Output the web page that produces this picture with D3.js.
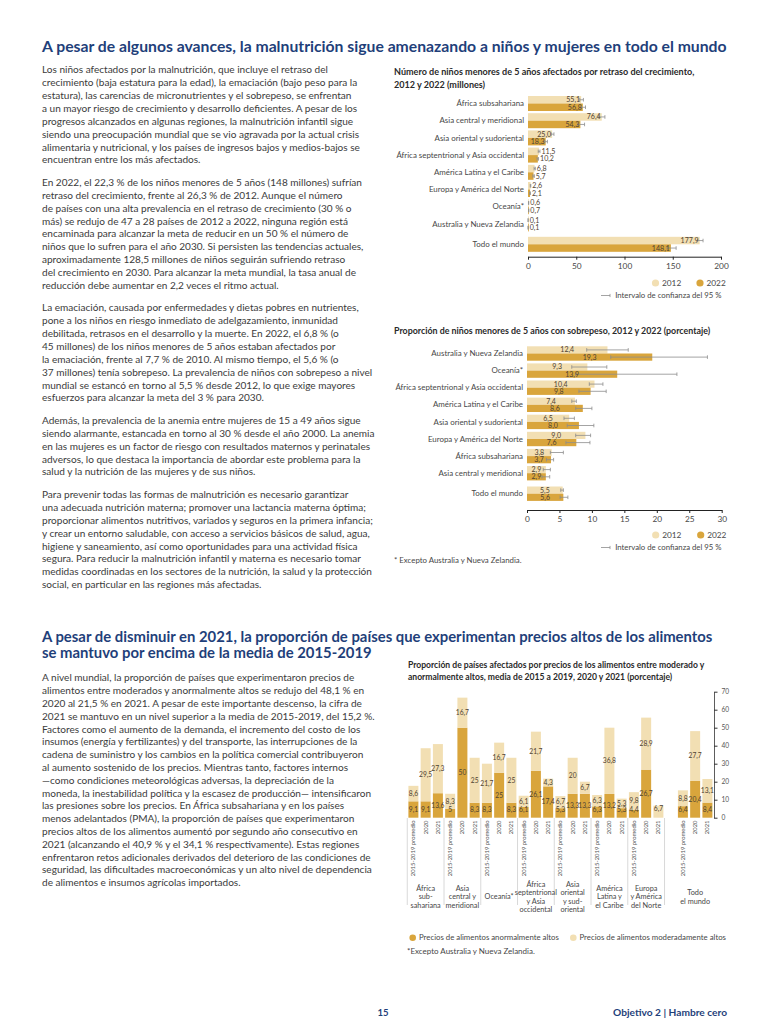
<!DOCTYPE html>
<html><head><meta charset="utf-8">
<script src="https://cdn.jsdelivr.net/npm/d3@7"></script>
<style>body{margin:0;background:#fff}svg{display:block}</style>
</head><body><svg id="c" width="768" height="1024"></svg>
<script>
// ---------------- DATA ----------------
const title1 = "A pesar de algunos avances, la malnutrición sigue amenazando a niños y mujeres en todo el mundo";
const title2 = ["A pesar de disminuir en 2021, la proporción de países que experimentan precios altos de los alimentos",
                "se mantuvo por encima de la media de 2015-2019"];
const paragraphs1 = [
 ["Los niños afectados por la malnutrición, que incluye el retraso del",
  "crecimiento (baja estatura para la edad), la emaciación (bajo peso para la",
  "estatura), las carencias de micronutrientes y el sobrepeso, se enfrentan",
  "a un mayor riesgo de crecimiento y desarrollo deficientes. A pesar de los",
  "progresos alcanzados en algunas regiones, la malnutrición infantil sigue",
  "siendo una preocupación mundial que se vio agravada por la actual crisis",
  "alimentaria y nutricional, y los países de ingresos bajos y medios-bajos se",
  "encuentran entre los más afectados."],
 ["En 2022, el 22,3 % de los niños menores de 5 años (148 millones) sufrían",
  "retraso del crecimiento, frente al 26,3 % de 2012. Aunque el número",
  "de países con una alta prevalencia en el retraso de crecimiento (30 % o",
  "más) se redujo de 47 a 28 países de 2012 a 2022, ninguna región está",
  "encaminada para alcanzar la meta de reducir en un 50 % el número de",
  "niños que lo sufren para el año 2030. Si persisten las tendencias actuales,",
  "aproximadamente 128,5 millones de niños seguirán sufriendo retraso",
  "del crecimiento en 2030. Para alcanzar la meta mundial, la tasa anual de",
  "reducción debe aumentar en 2,2 veces el ritmo actual."],
 ["La emaciación, causada por enfermedades y dietas pobres en nutrientes,",
  "pone a los niños en riesgo inmediato de adelgazamiento, inmunidad",
  "debilitada, retrasos en el desarrollo y la muerte. En 2022, el 6,8 % (o",
  "45 millones) de los niños menores de 5 años estaban afectados por",
  "la emaciación, frente al 7,7 % de 2010. Al mismo tiempo, el 5,6 % (o",
  "37 millones) tenía sobrepeso. La prevalencia de niños con sobrepeso a nivel",
  "mundial se estancó en torno al 5,5 % desde 2012, lo que exige mayores",
  "esfuerzos para alcanzar la meta del 3 % para 2030."],
 ["Además, la prevalencia de la anemia entre mujeres de 15 a 49 años sigue",
  "siendo alarmante, estancada en torno al 30 % desde el año 2000. La anemia",
  "en las mujeres es un factor de riesgo con resultados maternos y perinatales",
  "adversos, lo que destaca la importancia de abordar este problema para la",
  "salud y la nutrición de las mujeres y de sus niños."],
 ["Para prevenir todas las formas de malnutrición es necesario garantizar",
  "una adecuada nutrición materna; promover una lactancia materna óptima;",
  "proporcionar alimentos nutritivos, variados y seguros en la primera infancia;",
  "y crear un entorno saludable, con acceso a servicios básicos de salud, agua,",
  "higiene y saneamiento, así como oportunidades para una actividad física",
  "segura. Para reducir la malnutrición infantil y materna es necesario tomar",
  "medidas coordinadas en los sectores de la nutrición, la salud y la protección",
  "social, en particular en las regiones más afectadas."]
];
const paragraph2 = [
  "A nivel mundial, la proporción de países que experimentaron precios de",
  "alimentos entre moderados y anormalmente altos se redujo del 48,1 % en",
  "2020 al 21,5 % en 2021. A pesar de este importante descenso, la cifra de",
  "2021 se mantuvo en un nivel superior a la media de 2015-2019, del 15,2 %.",
  "Factores como el aumento de la demanda, el incremento del costo de los",
  "insumos (energía y fertilizantes) y del transporte, las interrupciones de la",
  "cadena de suministro y los cambios en la política comercial contribuyeron",
  "al aumento sostenido de los precios. Mientras tanto, factores internos",
  "—como condiciones meteorológicas adversas, la depreciación de la",
  "moneda, la inestabilidad política y la escasez de producción— intensificaron",
  "las presiones sobre los precios. En África subsahariana y en los países",
  "menos adelantados (PMA), la proporción de países que experimentaron",
  "precios altos de los alimentos aumentó por segundo año consecutivo en",
  "2021 (alcanzando el 40,9 % y el 34,1 % respectivamente). Estas regiones",
  "enfrentaron retos adicionales derivados del deterioro de las condiciones de",
  "seguridad, las dificultades macroeconómicas y un alto nivel de dependencia",
  "de alimentos e insumos agrícolas importados."
];

// Chart 1: stunting (millions)
const stuntTitle = ["Número de niños menores de 5 años afectados por retraso del crecimiento,", "2012 y 2022  (millones)"];
const stuntCats = ["África subsahariana","Asia central y meridional","Asia oriental y sudoriental","África septentrional y Asia occidental","América Latina y el Caribe","Europa y América del Norte","Oceanía*","Australia y Nueva Zelandia","Todo el mundo"];
const stunt2012 = [55.1, 76.4, 25.0, 11.5, 6.8, 2.6, 0.6, 0.1, 177.9];
const stunt2022 = [56.8, 54.3, 18.3, 10.2, 5.7, 2.1, 0.7, 0.1, 148.1];
const stunt2012Low  = [53.6, 73.4, 24.0, 10.6, 6.3, 2.3, 0.5, 0.08, 175.8];
const stunt2012High = [57.4, 79.7, 26.9, 12.4, 7.6, 2.9, 0.8, 0.15, 181.4];
const stunt2022Low  = [55.0, 51.5, 17.4, 9.4, 5.1, 1.8, 0.6, 0.08, 144.0];
const stunt2022High = [59.6, 58.6, 20.1, 10.9, 6.6, 2.5, 0.9, 0.15, 153.5];
const stuntTicks = [0, 50, 100, 150, 200];

// Chart 2: overweight (%)
const owTitle = "Proporción de niños menores de 5 años con sobrepeso, 2012 y 2022  (porcentaje)";
const owCats = ["Australia y Nueva Zelandia","Oceanía*","África septentrional y Asia occidental","América Latina y el Caribe","Asia oriental y sudoriental","Europa y América del Norte","África subsahariana","Asia central y meridional","Todo el mundo"];
const ow2012 = [12.4, 9.3, 10.4, 7.4, 6.5, 9.0, 3.8, 2.9, 5.5];
const ow2022 = [19.3, 13.9, 9.8, 8.6, 8.0, 7.6, 3.7, 2.9, 5.6];
const ow2012Low  = [9.2, 6.9, 9.6, 6.9, 5.7, 7.5, 3.6, 2.5, 5.2];
const ow2012High = [15.6, 12.3, 11.7, 7.6, 7.3, 9.8, 5.6, 3.6, 5.6];
const ow2022Low  = [12.9, 7.5, 8.0, 7.5, 6.2, 6.0, 3.0, 2.3, 5.1];
const ow2022High = [27.8, 23.1, 12.2, 10.0, 10.3, 9.7, 4.1, 3.5, 6.3];
const owTicks = [0, 5, 10, 15, 20, 25, 30];

const seriesNames = ["2012", "2022"];
const ciLabel = "Intervalo de confianza del 95 %";
const footnote = "* Excepto Australia y Nueva Zelandia.";

// Chart 3: food prices (%)
const priceTitle = ["Proporción de países afectados por precios de los alimentos entre moderado y",
                    "anormalmente altos, media de 2015 a 2019, 2020 y 2021  (porcentaje)"];
const priceGroups = [["África","sub-","sahariana"],["Asia","central y","meridional"],["Oceanía*"],
  ["África","septentrional","y Asia","occidental"],["Asia","oriental","y sud-","oriental"],
  ["América","Latina y","el Caribe"],["Europa","y América","del Norte"],["Todo","el mundo"]];
const pricePeriods = ["2015-2019 promedio","2020","2021"];
const priceAbnormal = [[9.1,9.1,13.6],[5,50,8.3],[8.3,25,8.3],[6.1,26.1,17.4],[5.3,13.3,13.3],[6.3,13.2,5.3],[4.4,26.7,0],[6.4,20.4,8.4]];
const priceModerate = [[8.6,29.5,27.3],[8.3,16.7,25],[21.7,16.7,25],[6.1,21.7,4.3],[6.7,20,6.7],[6.3,36.8,5.3],[9.8,28.9,6.7],[8.8,27.7,13.1]];
const priceTicks = [0,10,20,30,40,50,60,70];
const priceLegend = ["Precios de alimentos anormalmente altos","Precios de alimentos moderadamente altos"];
const priceFootnote = "*Excepto Australia y Nueva Zelandia.";

const pageNumber = "15";
const pageFooter = "Objetivo 2 | Hambre cero";

// ---------------- STYLE ----------------
const FONT = "Lato, 'Open Sans', sans-serif";
const NAVY = "#1f3f7a";
const TXT = "#3b3b3b";
const LABEL = "#474747";
const LIGHT = "#f2dfb3";
const DARK = "#d9a53c";
const VAL = "#4f4232";
const CI = "#8d8d8d";

const svg = d3.select("#c");
svg.append("rect").attr("width",768).attr("height",1024).attr("fill","#fff");

function measure(text, size, weight){
  const t = svg.append("text").attr("font-family",FONT).attr("font-size",size).attr("font-weight",weight||400).text(text);
  const w = t.node().getComputedTextLength(); t.remove(); return w;
}
function fit(text, width, weight){ return 10*width/measure(text,10,weight); }
const fmt1 = d3.formatLocale({decimal:",",thousands:".",grouping:[3],currency:["",""]}).format(".1f");
const fmtP = v => String(v).replace(".", ",");

function lines(arr, x, yCenter, lh, size, opts){
  opts = opts||{};
  const g = svg.append("g");
  arr.forEach((s,i)=>{
    g.append("text").attr("x",x).attr("y",yCenter + i*lh + size*0.34)
      .attr("font-family",FONT).attr("font-size",size).attr("font-weight",opts.weight||400)
      .attr("fill",opts.fill||TXT).attr("text-anchor",opts.anchor||"start").text(s);
  });
  return g;
}

// ---------------- PAGE TEXT ----------------
const titleSize = fit(title1, 685, 700);
lines([title1], 42, 47, 0, titleSize, {weight:700, fill:NAVY});
const title2Size = fit(title2[0], 671, 700);
lines(title2, 42, 636.5, 16.8, title2Size, {weight:700, fill:NAVY});

const bodySize = (fit(paragraph2[9], 330) + fit(paragraphs1[0][1], 315))/2;
const LH = 12.85;
let yc = 70;
paragraphs1.forEach(p=>{ lines(p, 42, yc, LH, bodySize); yc += p.length*LH + 9.8; });
lines(paragraph2, 42, 678, 12.8, bodySize);

lines([pageNumber], 383, 1013, 0, 9.5, {weight:700, fill:NAVY, anchor:"middle"});
const footSize = fit(pageFooter, 114, 700);
lines([pageFooter], 727, 1013, 0, footSize, {weight:700, fill:NAVY, anchor:"end"});

// ---------------- HORIZONTAL BAR CHARTS ----------------
const catSize = fit("África septentrional y Asia occidental", 128);
function hbar(cfg){
  const x = d3.scaleLinear().domain(cfg.domain).range(cfg.xr);
  const n = cfg.cats.length;
  const band = d3.scaleBand().domain(d3.range(n)).range([cfg.top, cfg.top + n*cfg.step]);
  const yg = i => band(i) + (i===n-1 ? cfg.extra : 0);
  const g = svg.append("g");
  const bh = cfg.bh;
  const series = [
    {v:cfg.a, lo:cfg.aLo, hi:cfg.aHi, c:LIGHT, off:0},
    {v:cfg.b, lo:cfg.bLo, hi:cfg.bHi, c:DARK, off:bh}
  ];
  cfg.cats.forEach((c,i)=>{
    g.append("text").attr("x", cfg.xr[0]-4).attr("y", yg(i)+bh+catSize*0.34)
     .attr("text-anchor","end").attr("font-family",FONT).attr("font-size",catSize)
     .attr("fill",LABEL).text(c);
  });
  series.forEach(s=>{
    g.selectAll(null).data(s.v).enter().append("rect")
     .attr("x", x(0)).attr("y",(d,i)=>yg(i)+s.off).attr("width",d=>Math.max(0.8,x(d)-x(0))).attr("height",bh)
     .attr("fill",s.c);
  });
  series.forEach(s=>{
    s.v.forEach((d,i)=>{
      const yy = yg(i)+s.off+bh/2;
      g.append("line").attr("x1",x(s.lo[i])).attr("x2",x(s.hi[i])).attr("y1",yy).attr("y2",yy).attr("stroke",CI).attr("stroke-width",0.8);
      [s.lo[i], s.hi[i]].forEach(e=>g.append("line").attr("x1",x(e)).attr("x2",x(e)).attr("y1",yy-1.8).attr("y2",yy+1.8).attr("stroke",CI).attr("stroke-width",0.8));
    });
  });
  series.forEach(s=>{
    s.v.forEach((d,i)=>{
      const yy = yg(i)+s.off+bh/2 + cfg.valSize*0.35;
      let tx, anchor;
      if(cfg.mode==="center"){ tx=(x(0)+x(d))/2; anchor="middle"; }
      else if(d>15){ tx=x(d)-1; anchor="end"; }
      else { tx=Math.max(x(d),x(s.hi[i]))+1.5; anchor="start"; }
      g.append("text").attr("x",tx).attr("y",yy).attr("text-anchor",anchor)
       .attr("font-family",FONT).attr("font-size",cfg.valSize).attr("fill",VAL).text(fmt1(d));
    });
  });
  const ax = g.append("g").attr("transform",`translate(0,${cfg.axisY})`)
    .call(d3.axisBottom(x).tickValues(cfg.ticks).tickSize(3).tickSizeOuter(0).tickPadding(3));
  ax.select(".domain").attr("stroke","#222").attr("stroke-width",1);
  ax.selectAll(".tick line").attr("stroke","#222");
  ax.selectAll("text").attr("font-family",FONT).attr("font-size",8.3).attr("fill",LABEL);
  const lg = svg.append("g");
  seriesNames.forEach((nm,i)=>{
    const cx = cfg.legX[i];
    lg.append("circle").attr("cx",cx).attr("cy",cfg.legY).attr("r",3.6).attr("fill",i?DARK:LIGHT);
    lg.append("text").attr("x",cx+6.5).attr("y",cfg.legY+3).attr("font-family",FONT).attr("font-size",8.3).attr("fill",LABEL).text(nm);
  });
  const ly = cfg.legY+12.5;
  lg.append("line").attr("x1",601).attr("x2",610).attr("y1",ly).attr("y2",ly).attr("stroke",CI).attr("stroke-width",0.8);
  lg.append("line").attr("x1",610).attr("x2",610).attr("y1",ly-1.6).attr("y2",ly+1.6).attr("stroke",CI).attr("stroke-width",0.8);
  const ciSize = fit(ciLabel, 106.5);
  lg.append("text").attr("x",721.5).attr("y",ly+ciSize*0.34).attr("text-anchor","end").attr("font-family",FONT)
    .attr("font-size",ciSize).attr("fill",LABEL).text(ciLabel);
}

const t1Size = fit(stuntTitle[0], 300.7, 700);
lines(stuntTitle, 394, 71.8, 12.7, t1Size, {weight:700, fill:"#2a2a2a"});
hbar({cats:stuntCats, a:stunt2012, b:stunt2022, aLo:stunt2012Low, aHi:stunt2012High, bLo:stunt2022Low, bHi:stunt2022High,
  domain:[0,200], xr:[528,721], top:96, step:17.2, extra:3.2, bh:7.5, axisY:256.7, ticks:stuntTicks,
  valSize:7.1, mode:"end", legX:[655.5,700], legY:283});

const t2Size = fit(owTitle, 316.7, 700);
lines([owTitle], 394, 330.7, 0, t2Size, {weight:700, fill:"#2a2a2a"});
hbar({cats:owCats, a:ow2012, b:ow2022, aLo:ow2012Low, aHi:ow2012High, bLo:ow2022Low, bHi:ow2022High,
  domain:[0,30], xr:[527,721.7], top:346.3, step:17.1, extra:3.4, bh:7.2, axisY:510, ticks:owTicks,
  valSize:7.0, mode:"center", legX:[655.7,700.7], legY:535});
const fnSize = fit(footnote, 127.7);
lines([footnote], 394, 560.7, 0, fnSize, {fill:LABEL});

// ---------------- STACKED COLUMN CHART ----------------
const t3Size = fit(priceTitle[0], 297, 700);
lines(priceTitle, 408, 665.5, 12, t3Size, {weight:700, fill:"#2a2a2a"});

const slots = [];
priceGroups.forEach((grp,g)=>pricePeriods.forEach((p,k)=>slots.push({g,k, slot:g*3+k+(g===7?1:0),
  ab:priceAbnormal[g][k], mo:priceModerate[g][k], period:p})));
const xb = d3.scaleBand().domain(d3.range(25)).range([407.3,713.5]).paddingInner(0.184).paddingOuter(0.09);
const y3 = d3.scaleLinear().domain([0,70]).range([817.7,691.7]);
const bw = xb.bandwidth(), gapHalf = (xb.step()-bw)/2;
const g3 = svg.append("g");
priceGroups.forEach((grp,g)=>{
  const sx = (g===7 ? xb(21) : xb(g*3)) - gapHalf;
  g3.append("line").attr("x1",sx).attr("x2",sx).attr("y1",818).attr("y2",905).attr("stroke","#c9c9c9").attr("stroke-width",0.7);
});
g3.selectAll(null).data(slots).enter().append("rect")
  .attr("x",d=>xb(d.slot)).attr("width",bw).attr("y",d=>y3(d.ab)).attr("height",d=>y3(0)-y3(d.ab)).attr("fill",DARK);
g3.selectAll(null).data(slots).enter().append("rect")
  .attr("x",d=>xb(d.slot)).attr("width",bw).attr("y",d=>y3(d.ab+d.mo)).attr("height",d=>y3(d.ab)-y3(d.ab+d.mo)).attr("fill",LIGHT);
const vs = 6.7, clampY = y3(0)-8.3;
slots.forEach(d=>{
  const cx = xb(d.slot)+bw/2;
  if(d.ab>0) g3.append("text").attr("x",cx).attr("y",Math.min(y3(d.ab/2),clampY)+vs*0.35).attr("text-anchor","middle")
     .attr("font-family",FONT).attr("font-size",vs).attr("fill",VAL).text(fmtP(d.ab));
  if(d.mo>0) g3.append("text").attr("x",cx).attr("y",Math.min(y3(d.ab+d.mo/2),clampY-0.5)+vs*0.35).attr("text-anchor","middle")
     .attr("font-family",FONT).attr("font-size",vs).attr("fill",VAL).text(fmtP(d.mo));
  g3.append("text").attr("transform",`translate(${cx+2},${820.5}) rotate(-90)`).attr("text-anchor","end")
     .attr("font-family",FONT).attr("font-size",5.9).attr("fill","#555").text(d.period);
});
const ax3 = g3.append("g").attr("transform","translate(714,0)")
  .call(d3.axisRight(y3).tickValues(priceTicks).tickSize(3.5).tickSizeOuter(0).tickPadding(4));
ax3.select(".domain").attr("stroke","#333").attr("stroke-width",0.8);
ax3.selectAll(".tick line").attr("stroke","#333");
ax3.selectAll("text").attr("font-family",FONT).attr("font-size",6.6).attr("fill","#555");
const gls = 7.3, glh = 8.3;
priceGroups.forEach((grp,g)=>{
  const a = slots.find(s=>s.g===g && s.k===0), b = slots.find(s=>s.g===g && s.k===2);
  const cx = (xb(a.slot) + xb(b.slot)+bw)/2;
  const top = 897 - (grp.length-1)*glh/2;
  grp.forEach((s,i)=>g3.append("text").attr("x",cx).attr("y",top+i*glh+gls*0.34).attr("text-anchor","middle")
     .attr("font-family",FONT).attr("font-size",gls).attr("fill",LABEL).text(s));
});
const lsz = fit(priceLegend[0], 140);
[[412.7,DARK,419],[573.3,LIGHT,579.5]].forEach((p,i)=>{
  g3.append("circle").attr("cx",p[0]).attr("cy",937.7).attr("r",3.3).attr("fill",p[1]);
  g3.append("text").attr("x",p[2]).attr("y",937.7+lsz*0.34).attr("font-family",FONT).attr("font-size",lsz).attr("fill",LABEL).text(priceLegend[i]);
});
const pfs = fit(priceFootnote, 128);
lines([priceFootnote], 407, 951.5, 0, pfs, {fill:LABEL});
</script>
</body></html>
